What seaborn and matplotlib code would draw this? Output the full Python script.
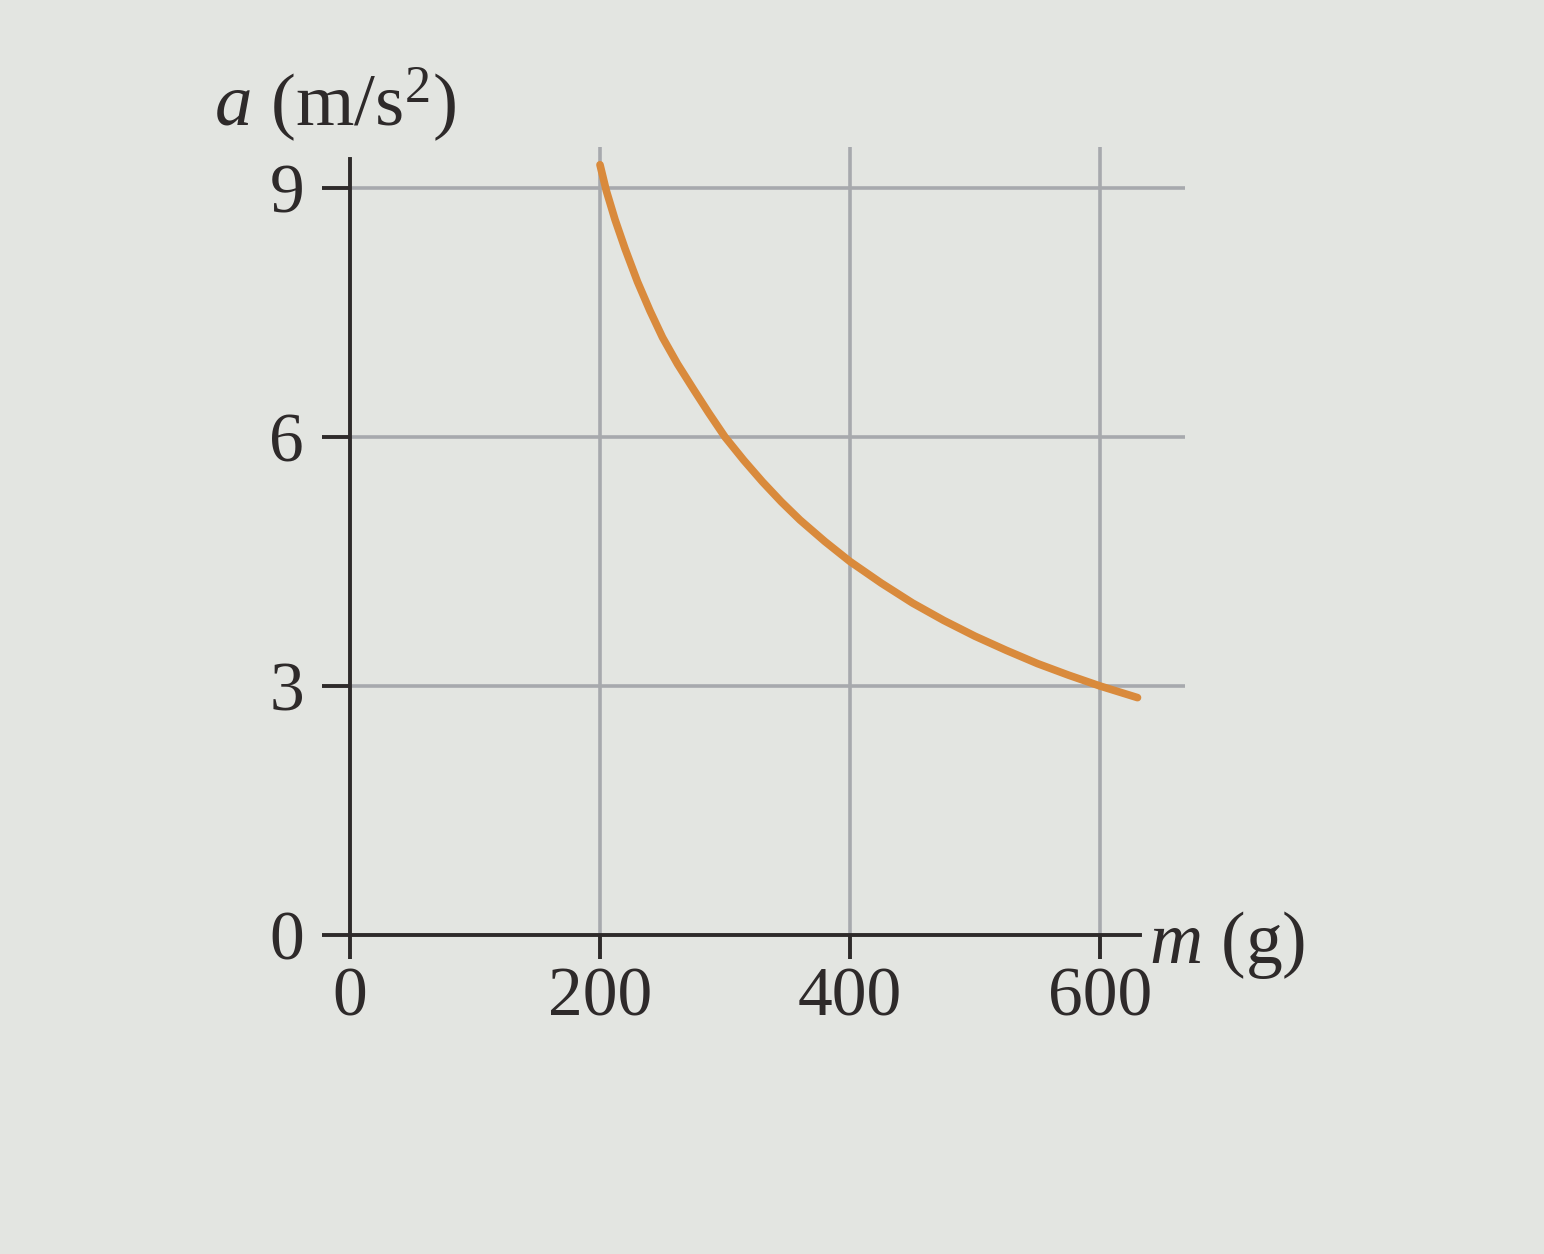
import numpy as np
import pandas as pd
import matplotlib
matplotlib.use("Agg")
import matplotlib.pyplot as plt
import seaborn as sns

# values
mass_g = [200, 205, 212, 220, 230, 240, 250, 262, 275, 287, 300, 315, 330, 345,
          360, 380, 400, 425, 450, 475, 500, 525, 550, 575, 600, 615, 630]
accel = [9.28, 8.97, 8.62, 8.27, 7.87, 7.52, 7.2, 6.88, 6.57, 6.29, 6.0, 5.72,
         5.46, 5.22, 5.0, 4.74, 4.5, 4.24, 4.0, 3.79, 3.6, 3.43, 3.27, 3.13,
         3.0, 2.93, 2.86]
x_ticks = [0, 200, 400, 600]
y_ticks = [0, 3, 6, 9]
grid_x = [200, 400, 600]
grid_y = [3, 6, 9]

df = pd.DataFrame({"m": mass_g, "a": accel})

sns.set_theme(style="white")
plt.rcParams["font.family"] = ["Liberation Serif", "DejaVu Serif"]
plt.rcParams["mathtext.fontset"] = "custom"
plt.rcParams["mathtext.rm"] = "Liberation Serif"
plt.rcParams["mathtext.it"] = "Liberation Serif:italic"

bg = "#e3e5e1"
ink = "#2e2a2a"
fig = plt.figure(figsize=(15.44, 12.54), dpi=100, facecolor=bg)
ax = fig.add_axes([350 / 1544, (1254 - 935) / 1254, 850 / 1544, 830 / 1254])
ax.set_facecolor("none")

# grid lines (shorter than the axes, like the printed figure)
ax.vlines(grid_x, 0, 9.5, color="#a7a9ad", linewidth=2.6, zorder=1)
ax.hlines(grid_y, 0, 668, color="#a7a9ad", linewidth=2.6, zorder=1)

sns.lineplot(data=df, x="m", y="a", ax=ax, color="#d98a3c", linewidth=5.5,
             zorder=3, solid_capstyle="round")

ax.set_xlim(0, 680)
ax.set_ylim(0, 10)
for s in ["top", "right"]:
    ax.spines[s].set_visible(False)
ax.spines["left"].set_bounds(0, 9.35)
ax.spines["bottom"].set_bounds(0, 632)
for s in ["left", "bottom"]:
    ax.spines[s].set_color(ink)
    ax.spines[s].set_linewidth(2.8)

ax.set_xticks(x_ticks)
ax.set_yticks(y_ticks)
ax.set_xticklabels([str(v) for v in x_ticks])
ax.set_yticklabels([str(v) for v in y_ticks])
ax.tick_params(axis="x", bottom=True, direction="out", length=17, width=2.8,
               color=ink, labelsize=50, pad=6, labelcolor=ink)
ax.tick_params(axis="y", left=True, direction="out", length=20, width=2.8,
               color=ink, labelsize=50, pad=13, labelcolor=ink)
ax.set_xlabel("")
ax.set_ylabel("")

ax.text(-0.16, 1.0, r"$a$ (m/s$^2$)", transform=ax.transAxes, fontsize=54,
        color=ink, ha="left", va="center")
ax.text(0.94, -0.012, r"$m$ (g)", transform=ax.transAxes, fontsize=53,
        color=ink, ha="left", va="center")

fig.savefig("out.png", dpi=100, facecolor=bg)
